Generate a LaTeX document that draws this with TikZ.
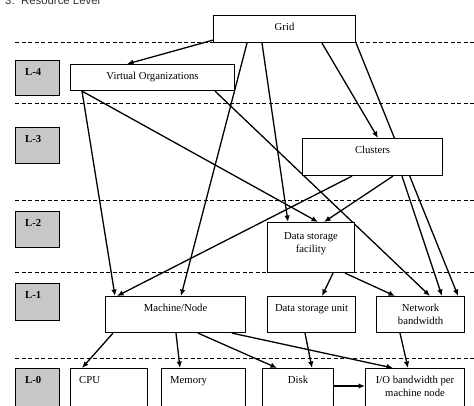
\documentclass[tikz,border=0pt]{standalone}
\usepackage{fontspec}
\setmainfont{Liberation Serif}
\newfontfamily\headfont{Liberation Sans}
\usetikzlibrary{arrows.meta}
\pgfdeclarelayer{bg}
\pgfsetlayers{bg,main}
\newcommand\diafont{\fontsize{10.7}{13}\selectfont}
\tikzset{
  sep/.style={dash pattern=on 4pt off 2.5pt, line width=1pt},
  box/.style={draw, fill=white, line width=1.1pt, anchor=north west, inner sep=0pt},
  lvl/.style={draw, fill=black!22, line width=1.1pt, anchor=north west, inner sep=0pt, minimum width=44pt},
  txt/.style={anchor=north, yshift=-8pt, inner sep=0pt, align=center},
  ltxt/.style={anchor=north west, xshift=9pt, yshift=-8pt, inner sep=0pt},
  arr/.style={-{Latex[length=6.5pt,width=5.5pt]}, line width=1.3pt},
}
\begin{document}
\begin{tikzpicture}[x=1pt, y=-1pt, font=\diafont]
  \useasboundingbox (0,0) rectangle (474,405);
  \node[anchor=base west, inner sep=0pt, font=\headfont\fontsize{11.4}{13}\selectfont, black!80] (title) at (5,4) {3.\ \ Resource Level};
  % level tags
  \foreach \lv/\y/\h in {4/60/35,3/127/36,2/211/36,1/283/37,0/368/50}
    \node[lvl, minimum height=\h pt, label={[ltxt, xshift=1pt, font=\diafont\bfseries]north west:L-\lv}] (l\lv) at (15,\y) {};
  % resources
  \node[box, minimum width=142pt, minimum height=27pt, label={[txt]north:Grid}] (grid) at (213,15) {};
  \node[box, minimum width=164pt, minimum height=26pt, label={[txt, yshift=0.5pt]north:Virtual Organizations}] (vo) at (70,64) {};
  \node[box, minimum width=140pt, minimum height=37pt, label={[txt]north:Clusters}] (clusters) at (302,138) {};
  \node[box, minimum width=87pt, minimum height=50pt, label={[txt, yshift=-2.5pt]north:{Data storage\\facility}}] (dsf) at (267,222) {};
  \node[box, minimum width=140pt, minimum height=36pt, label={[txt]north:Machine/Node}] (mn) at (105,296) {};
  \node[box, minimum width=88pt, minimum height=36pt, label={[txt]north:Data storage unit}] (dsu) at (267,296) {};
  \node[box, minimum width=88pt, minimum height=36pt, label={[txt]north:{Network\\bandwidth}}] (nb) at (376,296) {};
  \node[box, minimum width=77pt, minimum height=50pt, label={[ltxt]north west:CPU}] (cpu) at (70,368) {};
  \node[box, minimum width=84pt, minimum height=50pt, label={[ltxt]north west:Memory}] (mem) at (161,368) {};
  \node[box, minimum width=71pt, minimum height=50pt, label={[txt]north:Disk}] (disk) at (262,368) {};
  \node[box, minimum width=99pt, minimum height=50pt, label={[txt]north:{I/O bandwidth per\\machine node}}] (io) at (365,368) {};
  \begin{pgfonlayer}{bg}
    % level separators
    \foreach \y in {42,103,200,272,358}
      \draw[sep] (15,\y) -- (474,\y);
    % dependencies
    \draw[arr] ([yshift=3pt]grid.south west) -- ([xshift=57pt]vo.north west);
    \draw[arr] ([xshift=34pt]grid.south west) -- ([xshift=76pt]mn.north west);
    \draw[arr] ([xshift=49pt]grid.south west) -- ([xshift=21pt]dsf.north west);
    \draw[arr] ([xshift=109pt]grid.south west) -- ([xshift=76pt]clusters.north west);
    \draw[arr] (grid.south east) -- ([xshift=-7pt]nb.north east);
    \draw[arr] ([xshift=12pt]vo.south west) -- ([xshift=10pt]mn.north west);
    \draw[arr] ([xshift=12pt]vo.south west) -- ([xshift=51pt]dsf.north west);
    \draw[arr] ([xshift=145pt]vo.south west) -- ([xshift=54pt]nb.north west);
    \draw[arr] ([xshift=50pt]clusters.south west) -- ([xshift=12pt]mn.north west);
    \draw[arr] ([xshift=91pt]clusters.south west) -- ([xshift=57pt]dsf.north west);
    \draw[arr] ([xshift=100pt]clusters.south west) -- ([xshift=66pt]nb.north west);
    \draw[arr] ([xshift=66pt]dsf.south west) -- ([xshift=55pt]dsu.north west);
    \draw[arr] ([xshift=78pt]dsf.south west) -- ([xshift=19pt]nb.north west);
    \draw[arr] ([xshift=8pt]mn.south west) -- ([xshift=12pt]cpu.north west);
    \draw[arr] ([xshift=71pt]mn.south west) -- ([xshift=19pt]mem.north west);
    \draw[arr] ([xshift=93pt]mn.south west) -- ([xshift=15pt]disk.north west);
    \draw[arr] ([xshift=127pt]mn.south west) -- ([xshift=28pt]io.north west);
    \draw[arr] ([xshift=38pt]dsu.south west) -- ([xshift=50pt]disk.north west);
    \draw[arr] ([xshift=24pt]nb.south west) -- ([xshift=43pt]io.north west);
    \draw[arr] ([yshift=-18pt]disk.north east) -- ([yshift=-18pt]io.north west);
  \end{pgfonlayer}
\end{tikzpicture}
\end{document}
